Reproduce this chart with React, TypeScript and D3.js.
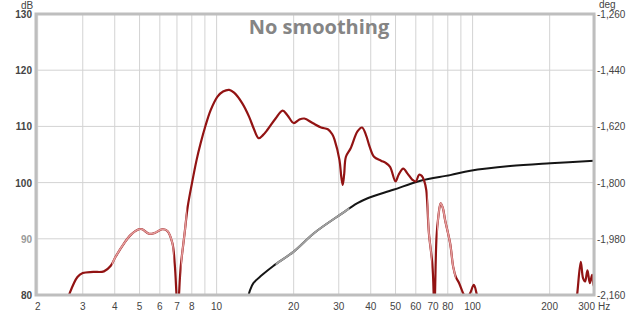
import React from "react";
import * as d3 from "d3";

const W = 639;
const H = 314;

// SPL trace (Hz, dB)
const splFreq = [
  2.5, 2.65, 2.86, 3.0, 3.3, 3.63, 3.86, 4.03, 4.35, 4.62, 4.97, 5.12, 5.44, 5.7, 6.14, 6.42, 6.72, 6.86, 6.97, 7.05,
  7.13, 7.24, 7.5, 7.71, 8.02, 8.35, 8.66, 9.06, 9.48, 10.08, 10.6, 11.2, 11.7, 12.6, 13.4, 14.0, 14.6, 15.2, 15.8,
  17.0, 18.1, 18.9, 20.0, 21.0, 22.0, 23.7, 25.6, 27.2, 28.3, 28.9, 30.2, 30.7, 31.1, 31.5, 32.0, 33.4, 35.5, 37.0,
  38.3, 39.6, 41.2, 43.9, 45.8, 47.6, 50.0, 51.4, 53.6, 55.7, 58.2, 60.0, 61.8, 63.3, 64.8, 65.9, 66.4, 67.5, 69.6,
  70.5, 70.8, 71.3, 72.3, 73.5, 75.0, 76.5, 78.1, 81.7, 84.0, 86.0, 88.6, 92.6, 95.0, 98.0, 101.1, 104.0, 108.0,
  130.0, 170.0, 220.0, 250.0, 256.0, 264.6, 270.0, 275.0, 281.0, 287.0, 293.0, 297.0, 300.0,
];
const splDb = [
  76.5, 80.0, 83.2, 83.9, 84.1, 84.2, 85.2, 86.8, 89.2, 90.7, 91.7, 91.7, 90.9, 91.0, 91.7, 91.4, 89.2, 85.6, 80.0, 75.5,
  80.0, 85.0, 91.0, 95.7, 100.0, 104.0, 107.0, 110.2, 112.9, 115.3, 116.2, 116.5, 116.0, 114.1, 111.7, 109.5, 107.9, 108.5, 109.4,
  111.4, 112.8, 112.0, 110.6, 111.2, 111.4, 110.6, 109.8, 109.5, 108.6, 107.6, 104.0, 101.0, 99.6, 101.5, 104.6, 106.1, 109.1, 109.8,
  108.5, 106.4, 104.6, 103.9, 103.5, 102.8, 100.2, 101.4, 102.5, 101.6, 100.5, 100.2, 101.4, 101.2, 100.2, 98.7, 96.9, 91.0, 85.6,
  80.0, 75.5, 80.0, 90.4, 94.0, 96.3, 95.5, 93.3, 89.2, 85.0, 83.2, 82.1, 80.0, 79.4, 80.4, 81.8, 80.0, 77.0,
  74.0, 73.0, 74.0, 76.5, 80.0, 85.9, 83.0, 82.4, 84.4, 82.1, 83.6, 81.6, 82.5,
];

// Phase trace (Hz, deg)
const phaseFreq = [13.1, 13.5, 13.92, 15.0, 16.65, 20.0, 24.0, 30.6, 35.5, 38.9, 49.0, 62.6, 81.7, 98.0, 140.0, 201.0, 300.0];
const phaseDeg = [-2185, -2145, -2122, -2097, -2067, -2021, -1962, -1901, -1866, -1850, -1823, -1794, -1776, -1762, -1747, -1738, -1730];

const xGrid = [2, 3, 4, 5, 6, 7, 8, 9, 10, 20, 30, 40, 50, 60, 70, 80, 90, 100, 200, 300];
const xLabels = [2, 3, 4, 5, 6, 7, 8, 10, 20, 30, 40, 50, 60, 70, 80, 100, 200, 300];
const dbTicks = [80, 90, 100, 110, 120, 130];
const degTicks = [-2160, -1980, -1800, -1620, -1440, -1260];

// frequency ranges where the traces are drawn in their lighter tint
const splLightRanges: [number, number][] = [
  [3.9, 6.8],
  [7.25, 7.65],
  [66.5, 69.3],
  [72.6, 86.0],
];
const phaseLightRanges: [number, number][] = [[17.0, 33.0]];

const L = 36, R = 594, T = 14, B = 295;

export default function App() {
  const x = d3.scaleLog().domain([1.97, 298]).range([L, R]);
  const y = d3.scaleLinear().domain([80, 130]).range([B, T]);
  const yR = d3.scaleLinear().domain([-2160, -1260]).range([B, T]);
  const fmt = d3.formatLocale({ decimal: ".", thousands: ",", grouping: [3], currency: ["$", ""], minus: "-" }).format(",");

  const spl = splFreq.map((f, i) => [f, splDb[i]] as [number, number]);
  const ph = phaseFreq.map((f, i) => [f, phaseDeg[i]] as [number, number]);

  const splLine = d3
    .line<[number, number]>()
    .x((d) => x(d[0]))
    .y((d) => y(d[1]))
    .curve(d3.curveCatmullRom.alpha(0.5))(spl) as string;
  const phLine = d3
    .line<[number, number]>()
    .x((d) => x(d[0]))
    .y((d) => yR(d[1]))
    .curve(d3.curveCatmullRom.alpha(0.5))(ph) as string;

  const font = "'Liberation Sans', Arial, sans-serif";

  return (
    <svg width={W} height={H} style={{ display: "block", position: "absolute", left: 0, top: 0 }}>
      <defs>
        <clipPath id="plot">
          <rect x={L} y={T} width={R - L} height={B - T} />
        </clipPath>
        <clipPath id="splLight">
          {splLightRanges.map(([a, b], i) => (
            <rect key={i} x={x(a)} y={T} width={x(b) - x(a)} height={B - T} />
          ))}
        </clipPath>
        <clipPath id="phLight">
          {phaseLightRanges.map(([a, b], i) => (
            <rect key={i} x={x(a)} y={T} width={x(b) - x(a)} height={B - T} />
          ))}
        </clipPath>
      </defs>
      <rect x={0} y={0} width={W} height={H} fill="#fff" />
      {/* grid */}
      {xGrid.map((f) => (
        <line key={"vx" + f} x1={x(f)} x2={x(f)} y1={T} y2={B} stroke="#d3d3d3" strokeWidth={1} />
      ))}
      {dbTicks.map((v) => (
        <line key={"hy" + v} x1={L} x2={R} y1={y(v)} y2={y(v)} stroke="#d3d3d3" strokeWidth={1} />
      ))}
      {/* title */}
      <text x={319} y={33.5} textAnchor="middle" fontFamily="'Open Sans', sans-serif" fontWeight={700} fontSize={20} fill="#858585">
        No smoothing
      </text>
      {/* traces */}
      <g clipPath="url(#plot)">
        <path d={phLine} fill="none" stroke="#151515" strokeWidth={2} />
        <g clipPath="url(#phLight)">
          <path d={phLine} fill="none" stroke="#a0a0a0" strokeWidth={2} />
        </g>
        <path d={splLine} fill="none" stroke="#921313" strokeWidth={2.2} />
        <g clipPath="url(#splLight)">
          <path d={splLine} fill="none" stroke="#e49a9a" strokeWidth={1.7} />
        </g>
      </g>
      {/* frame */}
      <rect x={L} y={T} width={R - L} height={B - T} fill="none" stroke="#bebebe" strokeWidth={3} />
      {/* left axis */}
      <text x={27} y={8.5} textAnchor="middle" fontFamily={font} fontSize={10} fill="#444">
        dB
      </text>
      {dbTicks.map((v) => (
        <text key={"ly" + v} x={32} y={y(v) + 4} textAnchor="end" fontFamily={font} fontWeight={700} fontSize={10} fill={v === 90 ? "#9a9a9a" : "#444"}>
          {v}
        </text>
      ))}
      {/* right axis */}
      <text x={599} y={7.5} fontFamily={font} fontSize={10} fill="#444">
        deg
      </text>
      {degTicks.map((v) => (
        <text key={"ry" + v} x={597} y={yR(v) + 4} fontFamily={font} fontSize={10} fill="#444">
          {fmt(v)}
        </text>
      ))}
      {/* x axis */}
      {xLabels.map((f, i) => (
        <text
          key={"lx" + f}
          x={i === xLabels.length - 1 ? 595 : x(f)}
          y={309.5}
          textAnchor={i === xLabels.length - 1 ? "end" : "middle"}
          fontFamily={font}
          fontSize={10}
          fill="#444"
        >
          {f}
        </text>
      ))}
      <text x={598} y={309.5} fontFamily={font} fontSize={10} fill="#444">
        Hz
      </text>
    </svg>
  );
}
